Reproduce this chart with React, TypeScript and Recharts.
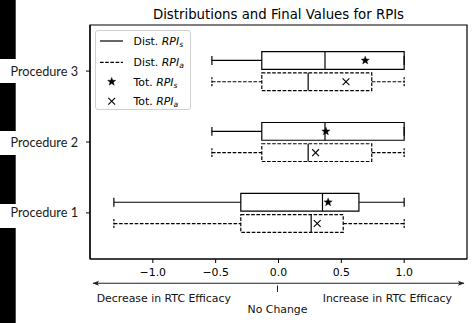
import React from 'react';
import {
  ComposedChart,
  XAxis,
  YAxis,
  Scatter,
  ReferenceArea,
  ReferenceLine,
} from 'recharts';

// ---- Data ----
const procedures = ['Procedure 1', 'Procedure 2', 'Procedure 3'];
const positions = [1, 2, 3];
const xTicks = [-1.0, -0.5, 0.0, 0.5, 1.0];

// Distribution of RPI_s (solid)
const sWhiskLow = [-1.31, -0.53, -0.53];
const sQ1 = [-0.3, -0.133, -0.133];
const sMedian = [0.35, 0.37, 0.37];
const sQ3 = [0.64, 1.0, 1.0];
const sWhiskHigh = [1.0, 1.0, 1.0];

// Distribution of RPI_a (dashed)
const aWhiskLow = [-1.31, -0.53, -0.53];
const aQ1 = [-0.3, -0.133, -0.133];
const aMedian = [0.26, 0.236, 0.236];
const aQ3 = [0.515, 0.742, 0.742];
const aWhiskHigh = [1.0, 1.0, 1.0];

// Final values
const totS = [0.395, 0.377, 0.69];
const totA = [0.308, 0.295, 0.537];

const OFFSET = 0.15;
const HALF_BOX = 0.125;
const HALF_CAP = 0.0625;
const LW = 1.2;
const DASH = '3.6 1.6';
const FONT = 'DejaVu Sans';

const starData = positions.map((p, i) => ({ x: totS[i], y: p + OFFSET }));
const crossData = positions.map((p, i) => ({ x: totA[i], y: p - OFFSET }));

const starPath = (cx: number, cy: number, R: number, r: number) => {
  const pts: string[] = [];
  for (let k = 0; k < 10; k++) {
    const ang = -Math.PI / 2 + (k * Math.PI) / 5;
    const rad = k % 2 === 0 ? R : r;
    pts.push(`${cx + rad * Math.cos(ang)},${cy + rad * Math.sin(ang)}`);
  }
  return `M${pts.join('L')}Z`;
};

const StarShape = (props: any) => {
  const { cx, cy } = props;
  if (cx == null || cy == null) return <g />;
  return <path d={starPath(cx, cy, 4.3, 1.8)} fill="#000" stroke="#000" strokeWidth={0.4} />;
};

const CrossShape = (props: any) => {
  const { cx, cy } = props;
  if (cx == null || cy == null) return <g />;
  const s = 3.4;
  return (
    <g stroke="#000" strokeWidth={1.1}>
      <line x1={cx - s} y1={cy - s} x2={cx + s} y2={cy + s} />
      <line x1={cx - s} y1={cy + s} x2={cx + s} y2={cy - s} />
    </g>
  );
};

const fmt = (v: number) => (v < 0 ? '\u2212' + Math.abs(v).toFixed(1) : v.toFixed(1));

function boxElements(
  key: string,
  center: number[],
  low: number[],
  q1: number[],
  med: number[],
  q3: number[],
  high: number[],
  dashed: boolean
) {
  const els: React.ReactNode[] = [];
  const dash = dashed ? DASH : undefined;
  positions.forEach((p, i) => {
    const c = center[i];
    els.push(
      <ReferenceArea
        key={`${key}-box-${i}`}
        x1={q1[i]}
        x2={q3[i]}
        y1={c - HALF_BOX}
        y2={c + HALF_BOX}
        fill="none"
        fillOpacity={0}
        stroke="#000"
        strokeWidth={LW}
        strokeDasharray={dash}
        ifOverflow="visible"
      />
    );
    els.push(
      <ReferenceLine
        key={`${key}-med-${i}`}
        segment={[
          { x: med[i], y: c - HALF_BOX },
          { x: med[i], y: c + HALF_BOX },
        ]}
        stroke="#000"
        strokeWidth={LW}
        ifOverflow="visible"
      />
    );
    if (low[i] < q1[i]) {
      els.push(
        <ReferenceLine
          key={`${key}-wl-${i}`}
          segment={[
            { x: low[i], y: c },
            { x: q1[i], y: c },
          ]}
          stroke="#000"
          strokeWidth={LW}
          strokeDasharray={dash}
          ifOverflow="visible"
        />
      );
    }
    if (high[i] > q3[i]) {
      els.push(
        <ReferenceLine
          key={`${key}-wh-${i}`}
          segment={[
            { x: q3[i], y: c },
            { x: high[i], y: c },
          ]}
          stroke="#000"
          strokeWidth={LW}
          strokeDasharray={dash}
          ifOverflow="visible"
        />
      );
    }
    [low[i], high[i]].forEach((v, j) => {
      els.push(
        <ReferenceLine
          key={`${key}-cap-${i}-${j}`}
          segment={[
            { x: v, y: c - HALF_CAP },
            { x: v, y: c + HALF_CAP },
          ]}
          stroke="#000"
          strokeWidth={LW}
          strokeDasharray={dashed ? '2.2 1.2' : undefined}
          ifOverflow="visible"
        />
      );
    });
  });
  return els;
}

const LegendBox = () => (
  <div
    style={{
      position: 'absolute',
      left: 95,
      top: 30,
      width: 96,
      height: 80,
      border: '1px solid #d0d0d0',
      borderRadius: 3,
      background: 'rgba(255,255,255,0.85)',
      boxSizing: 'border-box',
    }}
  >
    <svg width={96} height={80} style={{ position: 'absolute', left: -1, top: -1 }}>
      <line x1={5} y1={11} x2={28} y2={11} stroke="#000" strokeWidth={LW} />
      <line x1={5} y1={32.3} x2={28} y2={32.3} stroke="#000" strokeWidth={LW} strokeDasharray={DASH} />
      <path d={starPath(16.7, 51.7, 4.3, 1.8)} fill="#000" stroke="#000" strokeWidth={0.4} />
      <g stroke="#000" strokeWidth={1.1}>
        <line x1={16.7 - 3.4} y1={71.3 - 3.4} x2={16.7 + 3.4} y2={71.3 + 3.4} />
        <line x1={16.7 - 3.4} y1={71.3 + 3.4} x2={16.7 + 3.4} y2={71.3 - 3.4} />
      </g>
      {[
        { y: 11, pre: 'Dist. ', sub: 's' },
        { y: 32.3, pre: 'Dist. ', sub: 'a' },
        { y: 51.7, pre: 'Tot. ', sub: 's' },
        { y: 71.3, pre: 'Tot. ', sub: 'a' },
      ].map((r, i) => (
        <text key={i} x={38.5} y={r.y + 4} fontFamily={FONT} fontSize={10.9} fill="#000">
          {r.pre}
          <tspan fontStyle="italic">RPI</tspan>
          <tspan fontStyle="italic" fontSize={7.6} dy={2}>
            {r.sub}
          </tspan>
        </text>
      ))}
    </svg>
  </div>
);

export default function App() {
  return (
    <div
      style={{
        position: 'absolute',
        left: 0,
        top: 0,
        width: 474,
        height: 323,
        background: '#fff',
        overflow: 'hidden',
      }}
    >
      <ComposedChart
        width={474}
        height={323}
        margin={{ top: 25, right: 7, bottom: 34, left: 0 }}
      >
        <XAxis
          type="number"
          dataKey="x"
          domain={[-1.5, 1.5]}
          allowDataOverflow
          ticks={xTicks}
          tickFormatter={fmt}
          height={30}
          tickSize={4}
          tickMargin={5}
          axisLine={{ stroke: '#000', strokeWidth: LW }}
          tickLine={{ stroke: '#000', strokeWidth: 1 }}
          tick={{ fontFamily: FONT, fontSize: 10.9, fill: '#000' }}
        />
        <YAxis
          type="number"
          dataKey="y"
          domain={[0.35, 3.65]}
          allowDataOverflow
          ticks={positions}
          tickFormatter={(v: number) => procedures[positions.indexOf(v)] ?? ''}
          width={90}
          tickSize={4}
          tickMargin={8}
          axisLine={{ stroke: '#000', strokeWidth: LW }}
          tickLine={{ stroke: '#000', strokeWidth: 1 }}
          tick={{ fontFamily: 'Lato', fontSize: 12.7, fill: '#1a1a1a' }}
        />
        <ReferenceArea
          x1={-1.5}
          x2={1.5}
          y1={0.35}
          y2={3.65}
          fill="none"
          fillOpacity={0}
          stroke="#000"
          strokeWidth={LW}
          ifOverflow="visible"
        />
        {boxElements('s', positions.map((p) => p + OFFSET), sWhiskLow, sQ1, sMedian, sQ3, sWhiskHigh, false)}
        {boxElements('a', positions.map((p) => p - OFFSET), aWhiskLow, aQ1, aMedian, aQ3, aWhiskHigh, true)}
        <Scatter data={starData} shape={<StarShape />} isAnimationActive={false} />
        <Scatter data={crossData} shape={<CrossShape />} isAnimationActive={false} />
      </ComposedChart>

      <svg
        width={474}
        height={323}
        style={{ position: 'absolute', left: 0, top: 0, pointerEvents: 'none' }}
      >
        {/* cropped black strips on the left */}
        <rect x={0} y={0} width={15.7} height={59} fill="#000" />
        <rect x={0} y={83} width={15.7} height={48} fill="#000" />
        <rect x={0} y={155} width={15.7} height={49} fill="#000" />
        <rect x={0} y={228} width={15.7} height={95} fill="#000" />

        <text x={278.5} y={19} textAnchor="middle" fontFamily={FONT} fontSize={13.3} fill="#000">
          Distributions and Final Values for RPIs
        </text>

        {/* direction arrow */}
        <line x1={93} y1={283.3} x2={464} y2={283.3} stroke="#222" strokeWidth={1.1} />
        <path d="M92.5,283.3 L99,280.8 L97.5,283.3 L99,285.8 Z" fill="#222" />
        <path d="M464.5,283.3 L458,280.8 L459.5,283.3 L458,285.8 Z" fill="#222" />
        <line x1={277.5} y1={285.5} x2={277.5} y2={292} stroke="#222" strokeWidth={1} />

        <text x={96.7} y={301.5} fontFamily={FONT} fontSize={10.9} fill="#111">
          Decrease in RTC Efficacy
        </text>
        <text x={322.7} y={301.5} fontFamily={FONT} fontSize={10.9} fill="#111">
          Increase in RTC Efficacy
        </text>
        <text x={277.5} y={312.5} textAnchor="middle" fontFamily={FONT} fontSize={10.9} fill="#111">
          No Change
        </text>
      </svg>

      <LegendBox />
    </div>
  );
}
